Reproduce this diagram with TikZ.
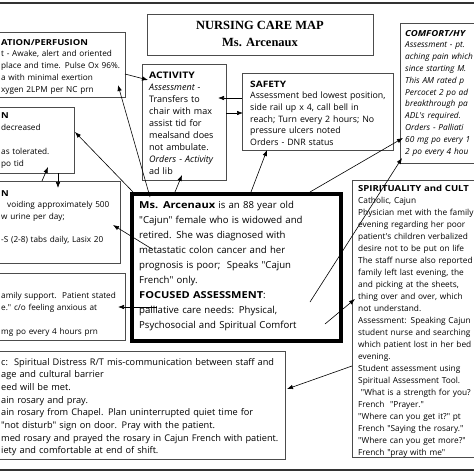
\documentclass[tikz,border=0pt]{standalone}
\usepackage{fontspec}
\setmainfont{Open Sans}[Ligatures=TeXOff]
\newfontfamily\hd{Open Sans}[Ligatures=TeXOff,FakeStretch=1.15]
\newfontfamily\titlefont{Liberation Serif}
\usetikzlibrary{arrows.meta,calc}
\newcommand\hb[1]{{\hd\bfseries #1}}
\begin{document}
\begin{tikzpicture}[x=1pt,y=-1pt,
  frame/.style={draw=black!70, line width=0.7pt, inner sep=0pt, anchor=north west},
  txt/.style={anchor=base west, inner sep=0pt, align=left, text width=360pt},
  arr/.style={-{Latex[length=6pt,width=4.5pt]}, line width=0.6pt, black}]
\useasboundingbox (0,0) rectangle (474,474);
\clip (0,0) rectangle (474,474);
\fill[white] (0,0) rectangle (474,474);
% page rules
\draw[line width=1.4pt, black!80] (-5,3) coordinate (rtl) -- (480,3) coordinate (rtr);
\draw[line width=2.2pt, black!80] (-5,470) coordinate (rbl) -- (480,470) coordinate (rbr);

% title
\node[frame, minimum width=226pt, minimum height=41pt] (title) at (147,14) {};
\node[align=center, inner sep=0pt, font=\titlefont\bfseries\fontsize{12.5}{17}\selectfont] (titlet) at (260,34) {NURSING CARE MAP\\Ms. Arcenaux};

% oxygenation
\node[frame, minimum width=127pt, minimum height=65pt] (oxy) at (-2,32) {};
\node[txt, font=\fontsize{8.2}{11.8}\selectfont] (oxyt) at (1,45) {\hb{ATION/PERFUSION}\\
t - Awake, alert and oriented\\
place and time. Pulse Ox 96\%.\\
a with minimal exertion\\
xygen 2LPM per NC prn};

% nutrition
\node[frame, minimum width=76pt, minimum height=66pt] (nut) at (-2,107) {};
\node[txt, font=\fontsize{8.2}{12.2}\selectfont] (nutt) at (1,118) {\hb{N}\\
decreased\\
\strut\\
as tolerated.\\
po tid};

% elimination
\node[frame, minimum width=122pt, minimum height=82pt] (elim) at (-2,181) {};
\node[txt, font=\fontsize{8.2}{11.5}\selectfont] (elimt) at (1,196) {\hb{N}\\
\hspace*{6pt}voiding approximately 500\\
w urine per day;\\
\strut\\
-S (2-8) tabs daily, Lasix 20};

% psychosocial
\node[frame, minimum width=127pt, minimum height=67pt] (psy) at (-2,273) {};
\node[txt, font=\fontsize{8.2}{12}\selectfont] (psyt) at (1,298) {amily support.\ \ Patient stated\\
e." c/o feeling anxious at\\
\strut\\
mg po every 4 hours prn};

% nursing diagnosis
\node[frame, minimum width=287pt, minimum height=108pt] (ndx) at (-2,351) {};
\node[txt, font=\fontsize{9.2}{12.7}\selectfont] (ndxt) at (1,365) {c:\ \ Spiritual Distress R/T mis-communication between staff and\\
age and cultural barrier\\
eed will be met.\\
ain rosary and pray.\\
ain rosary from Chapel. Plan uninterrupted quiet time for\\
"not disturb" sign on door. Pray with the patient.\\
med rosary and prayed the rosary in Cajun French with patient.\\
iety and comfortable at end of shift.};

% activity
\node[frame, minimum width=84pt, minimum height=116pt] (act) at (142,64) {};
\node[txt, font=\fontsize{9}{12}\selectfont] (actt) at (149,78) {\hb{ACTIVITY}\\
\textit{Assessment -}\\
Transfers to\\
chair with max\\
assist tid for\\
mealsand does\\
not ambulate.\\
\textit{Orders - Activity}\\
ad lib};

% safety
\node[frame, minimum width=151pt, minimum height=77pt] (saf) at (242,73) {};
\node[txt, font=\fontsize{8.8}{11.7}\selectfont] (saft) at (250,87) {\hb{SAFETY}\\
Assessment bed lowest position,\\
side rail up x 4, call bell in\\
reach; Turn every 2 hours; No\\
pressure ulcers noted\\
Orders - DNR status};

% comfort
\node[frame, minimum width=90pt, minimum height=140pt] (com) at (400,23) {};
\node[txt, font=\fontsize{8.3}{11.8}\selectfont\itshape] (comt) at (405,36) {\hb{\itshape COMFORT/HY}\\
Assessment - pt.\\
aching pain which\\
since starting M.\\
This AM rated p\\
Percocet 2 po ad\\
breakthrough pa\\
ADL's required.\\
Orders - Palliati\\
60 mg po every 1\\
2 po every 4 hou};

% spirituality
\node[frame, minimum width=140pt, minimum height=277pt] (spi) at (352,180) {};
\node[txt, font=\fontsize{8.3}{12}\selectfont] (spit) at (358,191) {\hb{SPIRITUALITY and CULT}\\
Catholic, Cajun\\
Physician met with the family\\
evening regarding her poor\\
patient's children verbalized\\
desire not to be put on life\\
The staff nurse also reported\\
family left last evening, the\\
and picking at the sheets,\\
thing over and over, which\\
not understand.\\
Assessment: Speaking Cajun\\
student nurse and searching\\
which patient lost in her bed\\
evening.\\
Student assessment using\\
Spiritual Assessment Tool.\\
\ "What is a strength for you?\\
French\ \ "Prayer."\\
"Where can you get it?" pt\\
French "Saying the rosary."\\
"Where can you get more?"\\
French "pray with me"};

% main box
\node[frame, draw=black, line width=2.6pt, minimum width=210pt, minimum height=148pt] (main) at (130,192) {};
\draw[line width=0.7pt] ($(main.north west)+(3.4,3.4)$) rectangle ($(main.south east)+(-3.4,-3.4)$);
\node[txt, font=\fontsize{9.6}{15}\selectfont] (maint) at (139,208) {\hb{Ms. Arcenaux} is an 88 year old\\
"Cajun" female who is widowed and\\
retired. She was diagnosed with\\
metastatic colon cancer and her\\
prognosis is poor;\ \ Speaks "Cajun\\
French" only.\\
\hb{FOCUSED ASSESSMENT}:\\
palliative care needs: Physical,\\
Psychosocial and Spiritual Comfort};

% connector end points
\coordinate (a1s) at (125,74);  \coordinate (a1e) at (148,80);
\coordinate (a2s) at (150,197); \coordinate (a2e) at (118,85);
\coordinate (a3s) at (133,192); \coordinate (a3e) at (75,132);
\coordinate (a4s) at (42,181);  \coordinate (a4e) at (48,167);
\coordinate (a5s) at (58,173);  \coordinate (a5e) at (58,188);
\coordinate (a6s) at (152,249); \coordinate (a6e) at (113,225);
\coordinate (a7s) at (157,307); \coordinate (a7e) at (118,307);
\coordinate (a8s) at (242,98);  \coordinate (a8e) at (218,98);
\coordinate (a9s) at (226,113); \coordinate (a9e) at (243,113);
\coordinate (a10s) at (175,192); \coordinate (a10e) at (182,175);
\coordinate (a11s) at (251,192); \coordinate (a11e) at (267,150);
\coordinate (a12s) at (310,192); \coordinate (a12e) at (403,138);
\coordinate (a13s) at (310,302); \coordinate (a13e) at (402,158);
\coordinate (a14s) at (325,324); \coordinate (a14e) at (355,299);
\coordinate (a15s) at (352,366); \coordinate (a15e) at (287,389);
\foreach \i in {1,...,15} \draw[arr] (a\i s) -- (a\i e);
\end{tikzpicture}
\end{document}
